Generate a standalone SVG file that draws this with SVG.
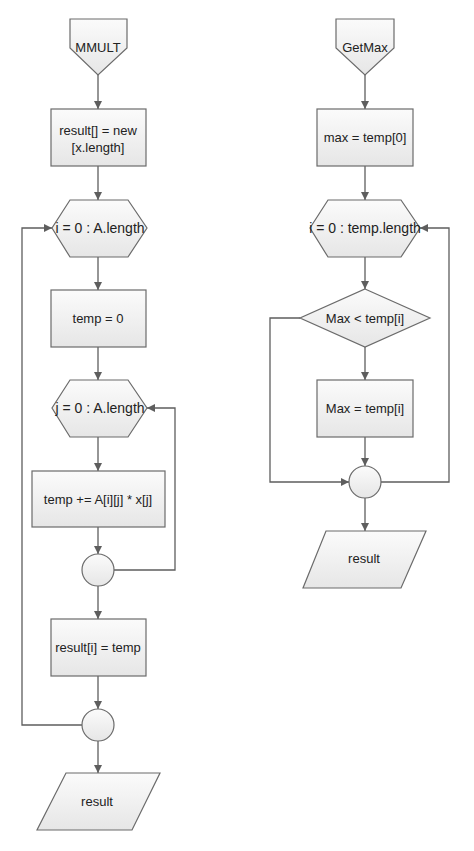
<svg xmlns="http://www.w3.org/2000/svg" width="474" height="851" viewBox="0 0 474 851">
<defs>
<linearGradient id="g" x1="0" y1="0" x2="0" y2="1">
<stop offset="0" stop-color="#fbfbfb"/>
<stop offset="1" stop-color="#e6e6e6"/>
</linearGradient>
<marker id="a" viewBox="0 0 8 8" refX="8" refY="4" markerWidth="8" markerHeight="8" markerUnits="userSpaceOnUse" orient="auto">
<path d="M0,0 L8,4 L0,8 z" fill="#5e5e5e"/>
</marker>
</defs>
<style>
.s{fill:url(#g);stroke:#6b6b6b;stroke-width:1.2}
.t{font-family:"Liberation Sans",Arial,sans-serif;font-size:13px;fill:#222;text-anchor:middle}
.h{font-size:14px}
.c{fill:none;stroke:#5e5e5e;stroke-width:1.3}
</style>
<rect width="474" height="851" fill="#fff"/>
<g id="connectors">
<path class="c" d="M98,75 V109" marker-end="url(#a)"/>
<path class="c" d="M98,166 V200" marker-end="url(#a)"/>
<path class="c" d="M98,257 V290" marker-end="url(#a)"/>
<path class="c" d="M98,347 V380" marker-end="url(#a)"/>
<path class="c" d="M98,437 V471" marker-end="url(#a)"/>
<path class="c" d="M98,527 V554" marker-end="url(#a)"/>
<path class="c" d="M114,570 H175 V408 H147" marker-end="url(#a)"/>
<path class="c" d="M98,586 V619" marker-end="url(#a)"/>
<path class="c" d="M98,676 V709" marker-end="url(#a)"/>
<path class="c" d="M82,725 H22 V228 H52" marker-end="url(#a)"/>
<path class="c" d="M98,741 V773" marker-end="url(#a)"/>
<path class="c" d="M365,75 V109" marker-end="url(#a)"/>
<path class="c" d="M365,166 V200" marker-end="url(#a)"/>
<path class="c" d="M365,257 V289" marker-end="url(#a)"/>
<path class="c" d="M365,347 V380" marker-end="url(#a)"/>
<path class="c" d="M300,318 H270 V482 H349" marker-end="url(#a)"/>
<path class="c" d="M365,437 V466" marker-end="url(#a)"/>
<path class="c" d="M381,482 H449 V228 H420" marker-end="url(#a)"/>
<path class="c" d="M365,498 V531" marker-end="url(#a)"/>
</g>
<g id="mmult">
<path class="s" d="M70,19 H127 V48 L98,75 L70,48 Z"/>
<text class="t" x="98" y="52">MMULT</text>
</g>
<g id="init-result">
<rect class="s" x="51" y="109" width="95" height="57"/>
<text class="t" x="98" y="135">result[] = new</text>
<text class="t" x="98" y="152">[x.length]</text>
</g>
<g id="loop-i">
<path class="s" d="M70,200 H128 L147,228 L128,257 H70 L52,228 Z"/>
<text class="t h" x="100" y="233">i = 0 : A.length</text>
</g>
<g id="temp-zero">
<rect class="s" x="51" y="290" width="95" height="57"/>
<text class="t" x="98" y="323">temp = 0</text>
</g>
<g id="loop-j">
<path class="s" d="M70,380 H128 L147,408 L128,437 H70 L52,408 Z"/>
<text class="t h" x="100" y="413">j = 0 : A.length</text>
</g>
<g id="accumulate">
<rect class="s" x="32" y="471" width="133" height="56"/>
<text class="t" x="98" y="504">temp += A[i][j] * x[j]</text>
</g>
<g id="join-j">
<circle class="s" cx="98" cy="570" r="16"/>
</g>
<g id="assign-result">
<rect class="s" x="51" y="619" width="95" height="57"/>
<text class="t" x="98" y="652">result[i] = temp</text>
</g>
<g id="join-i">
<circle class="s" cx="98" cy="725" r="16"/>
</g>
<g id="result-left">
<path class="s" d="M66,773 H160 L132,830 H37 Z"/>
<text class="t" x="97" y="806">result</text>
</g>
<g id="getmax">
<path class="s" d="M336,19 H394 V48 L365,75 L336,48 Z"/>
<text class="t" x="365" y="52">GetMax</text>
</g>
<g id="max-init">
<rect class="s" x="317" y="109" width="96" height="57"/>
<text class="t" x="365" y="142">max = temp[0]</text>
</g>
<g id="loop-temp">
<path class="s" d="M328,200 H401 L420,228 L401,257 H328 L310,228 Z"/>
<text class="t h" x="365" y="233">i = 0 : temp.length</text>
</g>
<g id="compare">
<path class="s" d="M365,289 L430,318 L365,347 L300,318 Z"/>
<text class="t" x="365" y="323">Max &lt; temp[i]</text>
</g>
<g id="max-assign">
<rect class="s" x="317" y="380" width="96" height="57"/>
<text class="t" x="365" y="413">Max = temp[i]</text>
</g>
<g id="join-max">
<circle class="s" cx="365" cy="482" r="16"/>
</g>
<g id="result-right">
<path class="s" d="M326,531 H426 L401,588 H303 Z"/>
<text class="t" x="364" y="563">result</text>
</g>
</svg>
